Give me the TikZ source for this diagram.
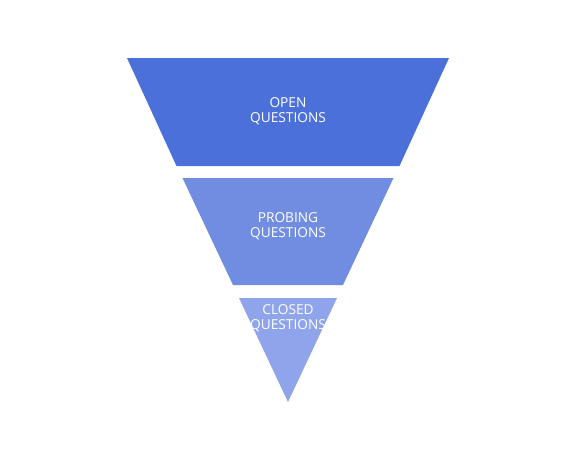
\documentclass[tikz,border=0pt]{standalone}
\usepackage{fontspec}
\setmainfont{Open Sans}
\definecolor{topblue}{RGB}{75,112,217}
\definecolor{midblue}{RGB}{112,141,226}
\definecolor{lowblue}{RGB}{143,164,234}
\begin{document}
\begin{tikzpicture}[x=1pt,y=-1pt,
  label/.style={text=white,align=center,inner sep=0pt,
    font=\fontsize{13.7}{15}\selectfont}]
\useasboundingbox[fill=white] (0,0) rectangle (576,461);
\fill[topblue] (127,58) -- (449,58) -- (399.5,166) -- (176.5,166) -- cycle;
\fill[midblue] (182.5,178) -- (393.5,178) -- (343,285) -- (233,285) -- cycle;
\fill[lowblue] (239,298) -- (337,298) -- (288,402) -- cycle;
\node[label] (open) at (288,111.5) {OPEN\\QUESTIONS};
\node[label] (probing) at (288,226) {PROBING\\QUESTIONS};
\begin{scope}
\clip (239,298) -- (337,298) -- (288,402) -- cycle;
\node[label] (closed) at (288,318.5) {CLOSED\\QUESTIONS};
\end{scope}
\end{tikzpicture}
\end{document}
